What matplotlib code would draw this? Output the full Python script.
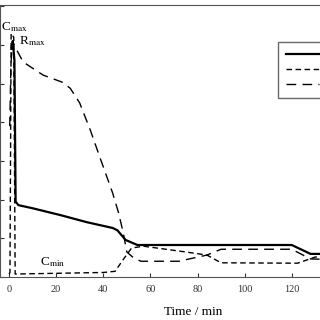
import matplotlib
matplotlib.use('Agg')
import matplotlib.pyplot as plt

plt.rcParams['font.family'] = ['Liberation Serif', 'DejaVu Serif']
plt.rcParams['mathtext.fontset'] = 'stix'

# solid line
solid_t = [1.0, 1.6, 2.3, 2.8, 4, 10, 22, 33, 44, 46, 49.5, 54.5, 60, 120, 128, 140]
solid_y = [5.9, 6.1, 5.6, 1.95, 1.86, 1.78, 1.60, 1.42, 1.27, 1.21, 0.96, 0.83, 0.83, 0.83, 0.60, 0.60]

# short dashed line (C)
c_t = [0, 0.4, 0.9, 2.0, 2.6, 40, 45, 49, 52, 57, 75, 84, 90, 122.5, 130, 140]
c_y = [0.08, 0.12, 6.3, 6.2, 0.08, 0.12, 0.15, 0.5, 0.75, 0.80, 0.65, 0.57, 0.37, 0.36, 0.52, 0.52]

# long dashed line (R)
r_t = [0.3, 0.8, 1.5, 3, 6, 14.5, 22.5, 26, 30, 34.5, 39, 44, 46.5, 48.5, 50, 53, 56, 72, 84, 90, 120, 128, 140]
r_y = [3.9, 5.5, 6.1, 5.9, 5.56, 5.22, 5.04, 4.88, 4.5, 3.80, 3.02, 2.17, 1.66, 1.14, 0.65, 0.49, 0.41, 0.41, 0.57, 0.72, 0.72, 0.47, 0.45]

xticks = [0, 20, 40, 60, 80, 100, 120]

fig = plt.figure(figsize=(3.2, 3.2), dpi=100)
ax = fig.add_axes([-0.00125, 0.134, 1.2075, 0.85])

l1, = ax.plot(solid_t, solid_y, color='black', lw=1.6)
l2, = ax.plot(c_t, c_y, color='black', lw=1.0, dashes=(4, 2.5))
l3, = ax.plot(r_t, r_y, color='black', lw=1.0, dashes=(7, 4.5))

ax.text(-3.2, 6.45, r'C$_{\mathrm{max}}$', fontsize=9.5, va='center', ha='left')
ax.text(4.3, 6.1, r'R$_{\mathrm{max}}$', fontsize=9.5, va='center', ha='left')
ax.text(13.2, 0.4, r'C$_{\mathrm{min}}$', fontsize=9.5, va='center', ha='left')

ax.set_xlim(-4, 160)
ax.set_ylim(0, 7.03)
ax.set_xticks(xticks)
ax.set_yticks(range(8))
ax.tick_params(direction='in', length=3, labelsize=7.5, colors='#333333', pad=6)
ax.tick_params(axis='y', labelleft=False)
for s in ax.spines.values():
    s.set_color('#555555')
ax.set_xlabel('Time / min', fontsize=9.5, labelpad=8)

# legend text lies beyond the cropped right edge in the reference
ax.legend([l1, l2, l3], ['', '', ''], loc='upper left', bbox_to_anchor=(0.72, 0.864),
          borderaxespad=0, fancybox=False, edgecolor='#444444', fontsize=8,
          handlelength=3, handletextpad=2.5, borderpad=0.7, labelspacing=0.5)

plt.savefig('out.png', dpi=100)
